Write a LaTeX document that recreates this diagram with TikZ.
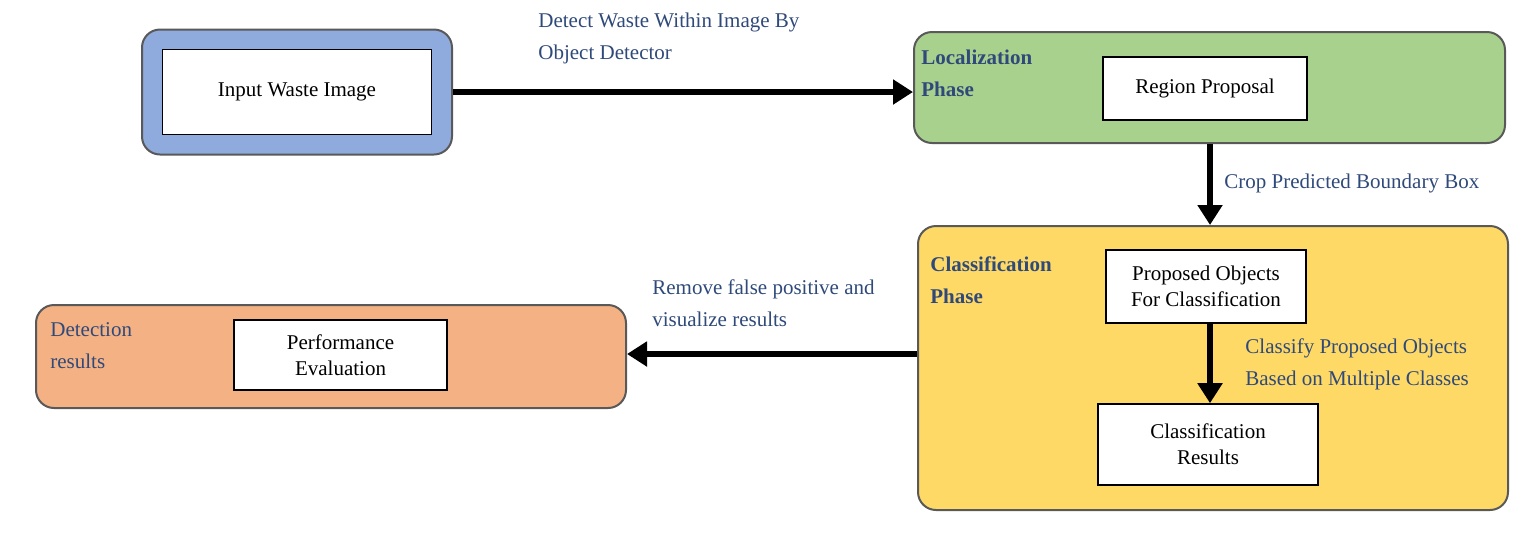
\documentclass[tikz,border=0pt]{standalone}
\usepackage{fontspec}
\setmainfont{Liberation Serif}
\usetikzlibrary{arrows.meta}
\definecolor{lblue}{HTML}{8FAADC}
\definecolor{lgreen}{HTML}{A9D18E}
\definecolor{lyellow}{HTML}{FFD966}
\definecolor{lorange}{HTML}{F4B183}
\definecolor{txtblue}{HTML}{2F4A7A}
\tikzset{
 x=0.5pt,y=-0.5pt,
 phase/.style={draw=black!65,line width=1pt,rounded corners=9pt,inner sep=0pt},
 wbox/.style={draw=black,fill=white,line width=0.8pt,inner sep=0pt,align=center,font=\fontsize{10.5}{13}\selectfont},
 lab/.style={text=txtblue,align=left,anchor=north west,inner sep=0pt,font=\fontsize{10.5}{16}\selectfont},
 plab/.style={lab,font=\bfseries\fontsize{10.5}{16}\selectfont},
 arr/.style={line width=3pt,-{Triangle[length=10pt,width=12pt]}}
}
\begin{document}
\begin{tikzpicture}
\useasboundingbox (0,0) rectangle (1521,532);
% blue
\node[phase,fill=lblue,minimum width=155pt,minimum height=62.5pt] (blue) at (297,92) {};
\node[wbox,minimum width=134.5pt,minimum height=42.5pt] (input) at (297,92) {Input Waste Image};
% green
\node[phase,fill=lgreen,minimum width=295.5pt,minimum height=55.5pt] (green) at (1209.5,87.5) {};
\node[plab] (loc) at (921,50) {Localization\\Phase};
\node[wbox,minimum width=102pt,minimum height=31.5pt] (region) at (1205,88.5) {Region Proposal};
% yellow
\node[phase,fill=lyellow,minimum width=295pt,minimum height=142pt] (yellow) at (1213,368) {};
\node[plab] (cls) at (930,256) {Classification\\Phase};
\node[wbox,minimum width=100pt,minimum height=36.5pt] (prop) at (1206,286.5) {Proposed Objects\\For Classification};
\node[wbox,minimum width=110pt,minimum height=40.5pt] (res) at (1208,444.5) {Classification\\Results};
% orange
\node[phase,fill=lorange,minimum width=295pt,minimum height=51.5pt] (orange) at (331,356.5) {};
\node[lab] (det) at (50,322) {Detection\\results};
\node[wbox,minimum width=106.5pt,minimum height=35pt] (perf) at (340.5,355) {Performance\\Evaluation};
% arrows
\draw[arr] (blue.east) -- (green.west |- blue.east);
\node[lab] (l1) at (538,13) {Detect Waste Within Image By\\Object Detector};
\draw[arr] (green.south -| 1210,0) -- (yellow.north -| 1210,0);
\node[lab] (l2) at (1224,174) {Crop Predicted Boundary Box};
\draw[arr] (prop.south -| 1210,0) -- (res.north -| 1210,0);
\node[lab] (l3) at (1245,338) {Classify Proposed Objects\\Based on Multiple Classes};
\draw[arr] (yellow.west |- 0,354) -- (orange.east |- 0,354);
\node[lab] (l4) at (652,279) {Remove false positive and\\visualize results};
\end{tikzpicture}
\end{document}
